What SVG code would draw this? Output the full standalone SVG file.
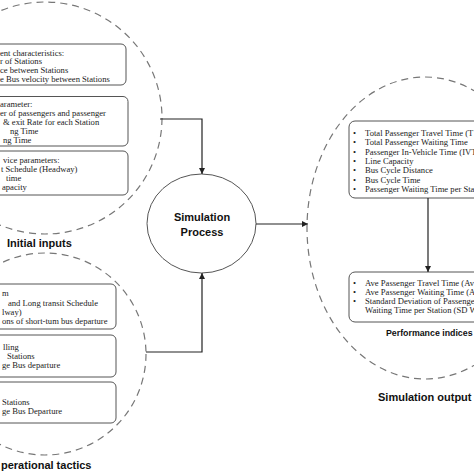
<svg xmlns="http://www.w3.org/2000/svg" width="474" height="474" viewBox="0 0 474 474">
<defs>
<marker id="ah" viewBox="0 0 10 10" refX="10" refY="5" markerWidth="6" markerHeight="6" orient="auto" markerUnits="userSpaceOnUse">
<path d="M0,0 L10,5 L0,10 z" fill="#222"/>
</marker>
<style>
.dash{fill:none;stroke:#777;stroke-width:1.2;stroke-dasharray:7 5}
.box{fill:#fff;stroke:#555;stroke-width:1}
.t{font-family:"Liberation Serif","Times New Roman",serif;font-size:8.6px;fill:#222}
.lbl{font-family:"Liberation Sans",Arial,sans-serif;font-weight:bold;font-size:11px;fill:#111}
.con{fill:none;stroke:#222;stroke-width:1.2}
</style>
</defs>
<rect width="474" height="474" fill="#fff"/>

<g id="initial-inputs">
<ellipse class="dash" cx="45" cy="118" rx="117" ry="116"/>
<rect class="box" x="-10" y="44" width="136" height="41" rx="5"/>
<text class="t" x="0" y="55.5">ent characteristics:</text>
<text class="t" x="0" y="64">r of Stations</text>
<text class="t" x="0" y="72.5">ce between Stations</text>
<text class="t" x="0" y="81.5">e Bus velocity between Stations</text>
<rect class="box" x="-10" y="96.5" width="138" height="49.5" rx="5"/>
<text class="t" x="0" y="107">arameter:</text>
<text class="t" x="0" y="116">er of passengers and passenger</text>
<text class="t" x="3" y="125">&amp; exit Rate for each Station</text>
<text class="t" x="10" y="134">ng Time</text>
<text class="t" x="3" y="142.5">ng Time</text>
<rect class="box" x="-10" y="151" width="138" height="44" rx="5"/>
<text class="t" x="3" y="163">vice parameters:</text>
<text class="t" x="1" y="172">t Schedule (Headway)</text>
<text class="t" x="6" y="180.5">time</text>
<text class="t" x="2" y="189.5">apacity</text>
<text class="lbl" x="7" y="247">Initial inputs</text>
</g>

<g id="operational-tactics">
<ellipse class="dash" cx="45" cy="354" rx="101" ry="101"/>
<rect class="box" x="-10" y="284" width="126" height="45" rx="5"/>
<text class="t" x="2" y="296">m</text>
<text class="t" x="8" y="305.5">and Long  transit Schedule</text>
<text class="t" x="2" y="314.5">lway)</text>
<text class="t" x="2" y="324">ons of short-tum bus departure</text>
<rect class="box" x="-10" y="335" width="126" height="42" rx="5"/>
<text class="t" x="3" y="350">lling</text>
<text class="t" x="7" y="358.5">Stations</text>
<text class="t" x="2" y="368">ge Bus departure</text>
<rect class="box" x="-10" y="382" width="126" height="41" rx="5"/>
<text class="t" x="2" y="405">Stations</text>
<text class="t" x="2" y="414">ge Bus Departure</text>
<text class="lbl" x="1" y="469">perational tactics</text>
</g>

<g id="simulation-process">
<ellipse cx="201.5" cy="223.5" rx="54.5" ry="49.5" fill="#fff" stroke="#555" stroke-width="1"/>
<text class="lbl" x="202" y="221" text-anchor="middle">Simulation</text>
<text class="lbl" x="202" y="236" text-anchor="middle">Process</text>
</g>

<g id="simulation-outputs">
<ellipse class="dash" cx="425" cy="228" rx="118" ry="151"/>
<rect class="box" x="349" y="121" width="140" height="77" rx="6"/>
<g class="t">
<text x="353" y="136">•</text><text x="365" y="136">Total Passenger  Travel Time (T</text>
<text x="353" y="145.3">•</text><text x="365" y="145.3">Total Passenger  Waiting Time</text>
<text x="353" y="154.6">•</text><text x="365" y="154.6">Passenger In-Vehicle Time (IVT</text>
<text x="353" y="163.9">•</text><text x="365" y="163.9">Line Capacity</text>
<text x="353" y="173.2">•</text><text x="365" y="173.2">Bus Cycle Distance</text>
<text x="353" y="182.5">•</text><text x="365" y="182.5">Bus Cycle Time</text>
<text x="353" y="191.8">•</text><text x="365" y="191.8">Passenger Waiting Time per Sta</text>
</g>
<rect class="box" x="349" y="272" width="140" height="50" rx="6"/>
<g class="t">
<text x="353" y="285.5">•</text><text x="365" y="285.5">Ave Passenger Travel Time (Av</text>
<text x="353" y="294.5">•</text><text x="365" y="294.5">Ave Passenger Waiting Time (A</text>
<text x="353" y="304">•</text><text x="365" y="304">Standard Deviation of Passenger</text>
<text x="365" y="313">Waiting Time per Station (SD W</text>
</g>
<text class="lbl" x="386" y="336" style="font-size:8.8px">Performance indices</text>
<text class="lbl" x="378" y="401">Simulation output</text>
</g>

<g id="connectors">
<path class="con" d="M160,119 H202 V174" marker-end="url(#ah)"/>
<path class="con" d="M146,352 H202 V273" marker-end="url(#ah)"/>
<path class="con" d="M256,224 H308" marker-end="url(#ah)"/>
<path class="con" d="M428,198 V272" marker-end="url(#ah)"/>
</g>
</svg>
